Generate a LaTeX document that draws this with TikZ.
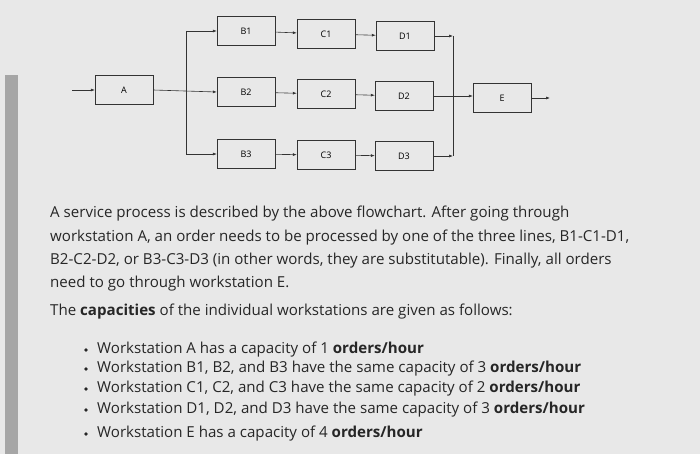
\documentclass[tikz,border=0pt]{standalone}
\usepackage{fontspec}
\setmainfont{Open Sans}
\usetikzlibrary{arrows.meta}
\begin{document}
\begin{tikzpicture}[x=1pt,y=-1pt,
  box/.style={draw=black!80,fill=black!9,minimum width=58pt,minimum height=29pt,inner sep=0pt,font=\fontsize{9}{10}\selectfont},
  ln/.style={draw=black!80,line width=0.6pt},
  ar/.style={ln,-{Latex[length=4pt,width=3pt]}},
  txt/.style={anchor=west,inner sep=0pt,font=\fontsize{15.1}{17}\selectfont,text=black!85}]
\fill[black!9] (0,0) rectangle (700,454);
\useasboundingbox (0,0) rectangle (700,454);
\fill[black!35] (5,75) rectangle (18,454);
\node[box] (A) at (124,90) {A};
\node[box] (B1) at (246,31) {B1};
\node[box] (B2) at (246,92) {B2};
\node[box] (B3) at (246,154) {B3};
\node[box] (C1) at (326,34) {C1};
\node[box] (C2) at (326,94) {C2};
\node[box] (C3) at (326,155) {C3};
\node[box] (D1) at (405,36) {D1};
\node[box] (D2) at (404,96) {D2};
\node[box] (D3) at (404,156) {D3};
\node[box] (E) at (502,98) {E};
\coordinate (in) at (72,90);
\coordinate (out) at (550,98);
\coordinate (s1) at (186,31);
\coordinate (s3) at (186,154);
\coordinate (m1) at (453,36);
\coordinate (m3) at (453,156);
\draw[ar] (in) -- (A);
\draw[ar] (A.east) -- (B2.west);
\draw[ln] (s1) -- (s3);
\draw[ar] (s1) -- (B1);
\draw[ar] (s3) -- (B3);
\draw[ar] (B1) -- (C1);
\draw[ar] (B2) -- (C2);
\draw[ar] (B3) -- (C3);
\draw[ar] (C1) -- (D1);
\draw[ar] (C2) -- (D2);
\draw[ar] (C3) -- (D3);
\draw[ar] (D1.east) -- (m1);
\draw[ar] (D3.east) -- (m3);
\draw[ln] (m1) -- (m3);
\draw[ar] (D2.east) -- (D2.east -| E.west);
\draw[ar] (E) -- (out);
\node[txt] (t1) at (50,214) {A service process is described by the above flowchart. After going through};
\node[txt] (t2) at (50,238) {workstation A, an order needs to be processed by one of the three lines, B1-C1-D1,};
\node[txt] (t3) at (50,261) {B2-C2-D2, or B3-C3-D3 (in other words, they are substitutable). Finally, all orders};
\node[txt] (t4) at (50,284) {need to go through workstation E.};
\node[txt] (t5) at (50,312) {The \textbf{capacities} of the individual workstations are given as follows:};
\foreach \y/\t [count=\i] in {350/{Workstation A has a capacity of 1 \textbf{orders/hour}},
  369/{Workstation B1, B2, and B3 have the same capacity of 3 \textbf{orders/hour}},
  389/{Workstation C1, C2, and C3 have the same capacity of 2 \textbf{orders/hour}},
  410/{Workstation D1, D2, and D3 have the same capacity of 3 \textbf{orders/hour}},
  434/{Workstation E has a capacity of 4 \textbf{orders/hour}}}{
  \fill[black!85] (86,\y) circle (1.8pt);
  \node[txt] (b\i) at (97,\y) {\t};
}
\end{tikzpicture}
\end{document}
